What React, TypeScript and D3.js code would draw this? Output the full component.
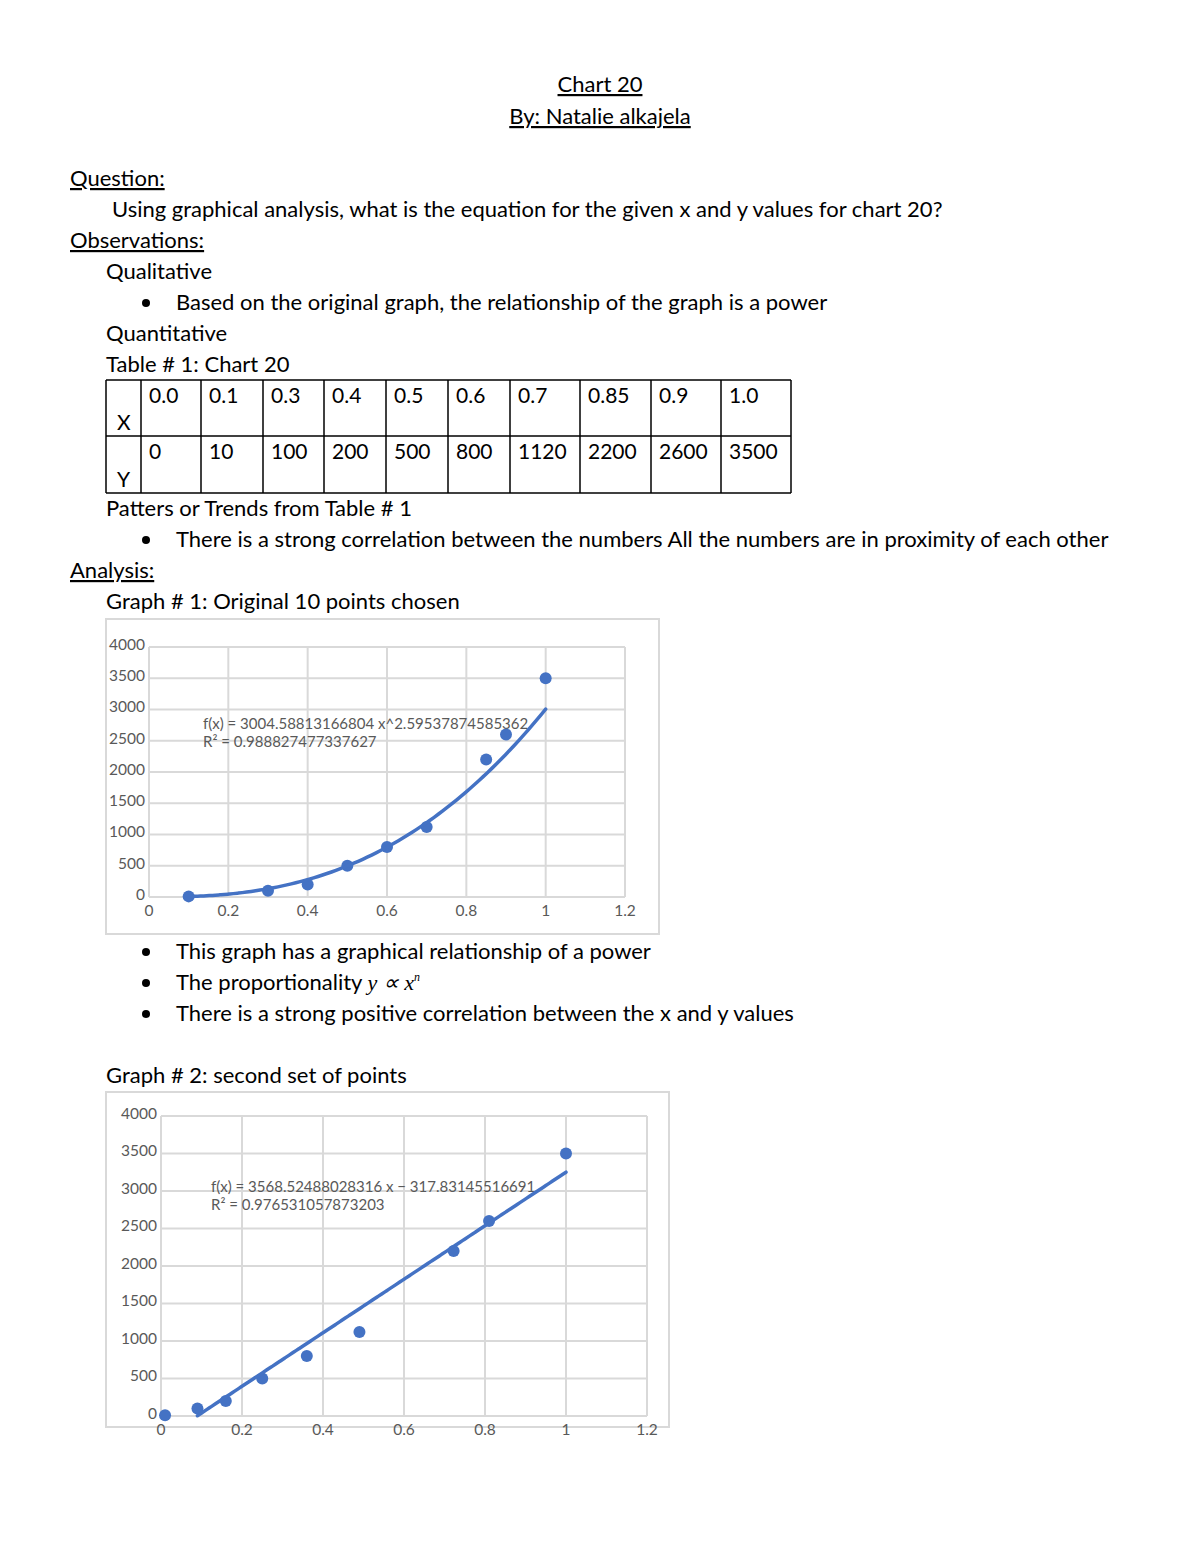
import * as d3 from "d3";

// ---- data ----
const tableX = ["0.0", "0.1", "0.3", "0.4", "0.5", "0.6", "0.7", "0.85", "0.9", "1.0"];
const tableY = ["0", "10", "100", "200", "500", "800", "1120", "2200", "2600", "3500"];

const graph1X = [0.1, 0.3, 0.4, 0.5, 0.6, 0.7, 0.85, 0.9, 1.0];
const graph1Y = [10, 100, 200, 500, 800, 1120, 2200, 2600, 3500];

const graph2X = [0.01, 0.09, 0.16, 0.25, 0.36, 0.49, 0.7225, 0.81, 1.0];
const graph2Y = [10, 100, 200, 500, 800, 1120, 2200, 2600, 3500];

const xTicks = [0, 0.2, 0.4, 0.6, 0.8, 1, 1.2];
const yTicks = [0, 500, 1000, 1500, 2000, 2500, 3000, 3500, 4000];

// trendlines as printed on the charts
const powerCoef = 3004.58813166804;
const powerExp = 2.59537874585362;
const linSlope = 3568.52488028316;
const linIntercept = -317.83145516691;

const eq1 = ["f(x) = 3004.58813166804 x^2.59537874585362", "R² = 0.988827477337627"];
const eq2 = ["f(x) = 3568.52488028316 x − 317.83145516691", "R² = 0.976531057873203"];

const BLUE = "#4472C4";
const GRID = "#d9d9d9";
const LABEL = "#595959";
const FONT = "Lato, 'Open Sans', sans-serif";

type Box = { x0: number; y0: number; x1: number; y1: number };

interface ChartProps {
  box: Box;
  plot: Box;
  xs: number[];
  ys: number[];
  trend: (x: number) => number;
  trendRange: [number, number];
  eq: string[];
  eqPos: [number, number];
}

function Chart({ box, plot, xs, ys, trend, trendRange, eq, eqPos }: ChartProps) {
  const x = d3.scaleLinear().domain([0, 1.2]).range([plot.x0, plot.x1]);
  const y = d3.scaleLinear().domain([0, 4000]).range([plot.y1, plot.y0]);
  const samples = d3.range(0, 81).map((i) => trendRange[0] + ((trendRange[1] - trendRange[0]) * i) / 80);
  const line = d3
    .line<number>()
    .x((d) => x(d))
    .y((d) => y(trend(d)))
    .curve(d3.curveMonotoneX);

  return (
    <g>
      <rect
        x={box.x0}
        y={box.y0}
        width={box.x1 - box.x0}
        height={box.y1 - box.y0}
        fill="white"
        stroke={GRID}
        strokeWidth={2}
      />
      {xTicks.map((t) => (
        <line key={"vx" + t} x1={x(t)} x2={x(t)} y1={plot.y0} y2={plot.y1} stroke={GRID} strokeWidth={2} />
      ))}
      {yTicks.map((t) => (
        <line key={"hy" + t} x1={plot.x0} x2={plot.x1} y1={y(t)} y2={y(t)} stroke={GRID} strokeWidth={2} />
      ))}
      {yTicks.map((t) => (
        <text
          key={"ly" + t}
          x={plot.x0 - 4}
          y={y(t) - 1}
          textAnchor="end"
          dominantBaseline="middle"
          fontSize={15.5}
          fill={LABEL}
        >
          {t}
        </text>
      ))}
      {xTicks.map((t) => (
        <text
          key={"lx" + t}
          x={x(t)}
          y={plot.y1 + 15}
          textAnchor="middle"
          dominantBaseline="middle"
          fontSize={15.5}
          fill={LABEL}
        >
          {d3.format("~g")(t)}
        </text>
      ))}
      <text x={eqPos[0]} y={eqPos[1]} fontSize={15} fill={LABEL}>
        <tspan x={eqPos[0]} dy={0}>{eq[0]}</tspan>
        <tspan x={eqPos[0]} dy={18}>{eq[1]}</tspan>
      </text>
      {xs.map((d, i) => (
        <circle key={"p" + i} cx={x(d)} cy={y(ys[i])} r={6} fill={BLUE} />
      ))}
      <path d={line(samples) || ""} fill="none" stroke={BLUE} strokeWidth={3.5} strokeLinecap="round" />
    </g>
  );
}

const colEdges = [106, 141, 201, 263, 324, 386, 448, 510, 580, 651, 721, 791];
const rowEdges = [380, 436, 493];

function Bullet({ y, children }: { y: number; children: any }) {
  return (
    <g>
      <circle cx={146} cy={y - 7} r={4} fill="black" />
      <text x={176} y={y}>
        {children}
      </text>
    </g>
  );
}

export default function App() {
  return (
    <svg
      width={1200}
      height={1553}
      style={{ position: "absolute", left: 0, top: 0, background: "white" }}
      fontFamily={FONT}
      fontSize={22}
    >
      <rect x={0} y={0} width={1200} height={1553} fill="white" />

      <text x={600} y={92} textAnchor="middle" style={{ textDecoration: "underline" }}>
        Chart 20
      </text>
      <text x={600} y={124} textAnchor="middle" style={{ textDecoration: "underline" }}>
        By: Natalie alkajela
      </text>

      <text x={70} y={186} style={{ textDecoration: "underline" }}>
        Question:
      </text>
      <text x={112} y={217}>
        Using graphical analysis, what is the equation for the given x and y values for chart 20?
      </text>
      <text x={70} y={248} style={{ textDecoration: "underline" }}>
        Observations:
      </text>
      <text x={106} y={279}>Qualitative</text>
      <Bullet y={310}>Based on the original graph, the relationship of the graph is a power</Bullet>
      <text x={106} y={341}>Quantitative</text>
      <text x={106} y={372}>Table # 1: Chart 20</text>

      {/* table */}
      <g fontSize={21}>
        {colEdges.map((cx) => (
          <line key={"c" + cx} x1={cx} x2={cx} y1={rowEdges[0]} y2={rowEdges[2]} stroke="black" strokeWidth={1.5} />
        ))}
        {rowEdges.map((ry) => (
          <line key={"r" + ry} x1={colEdges[0]} x2={colEdges[colEdges.length - 1]} y1={ry} y2={ry} stroke="black" strokeWidth={1.5} />
        ))}
        <text x={117} y={430}>X</text>
        <text x={117} y={487}>Y</text>
        {tableX.map((v, i) => (
          <text key={"tx" + i} x={colEdges[i + 1] + 8} y={403}>
            {v}
          </text>
        ))}
        {tableY.map((v, i) => (
          <text key={"ty" + i} x={colEdges[i + 1] + 8} y={459}>
            {v}
          </text>
        ))}
      </g>

      <text x={106} y={516}>Patters or Trends from Table # 1</text>
      <Bullet y={547}>There is a strong correlation between the numbers All the numbers are in proximity of each other</Bullet>
      <text x={70} y={578} style={{ textDecoration: "underline" }}>
        Analysis:
      </text>
      <text x={106} y={609}>Graph # 1: Original 10 points chosen</text>

      <Chart
        box={{ x0: 106, y0: 619, x1: 659, y1: 934 }}
        plot={{ x0: 149, y0: 647, x1: 625, y1: 897 }}
        xs={graph1X}
        ys={graph1Y}
        trend={(v) => powerCoef * Math.pow(v, powerExp)}
        trendRange={[0.1, 1]}
        eq={eq1}
        eqPos={[203, 729]}
      />

      <Bullet y={959}>This graph has a graphical relationship of a power</Bullet>
      <g>
        <circle cx={146} cy={983} r={4} fill="black" />
        <text x={176} y={990}>
          The proportionality{" "}
          <tspan fontFamily="'Liberation Serif', serif" fontStyle="italic">
            y ∝ x
          </tspan>
          <tspan fontFamily="'Liberation Serif', serif" fontStyle="italic" fontSize={12} dy={-9}>
            n
          </tspan>
        </text>
      </g>
      <Bullet y={1021}>There is a strong positive correlation between the x and y values</Bullet>

      <text x={106} y={1083}>Graph # 2: second set of points</text>

      <Chart
        box={{ x0: 106, y0: 1092, x1: 669, y1: 1427 }}
        plot={{ x0: 161, y0: 1116, x1: 647, y1: 1416 }}
        xs={graph2X}
        ys={graph2Y}
        trend={(v) => linSlope * v + linIntercept}
        trendRange={[0.09, 1]}
        eq={eq2}
        eqPos={[211, 1192]}
      />
    </svg>
  );
}
